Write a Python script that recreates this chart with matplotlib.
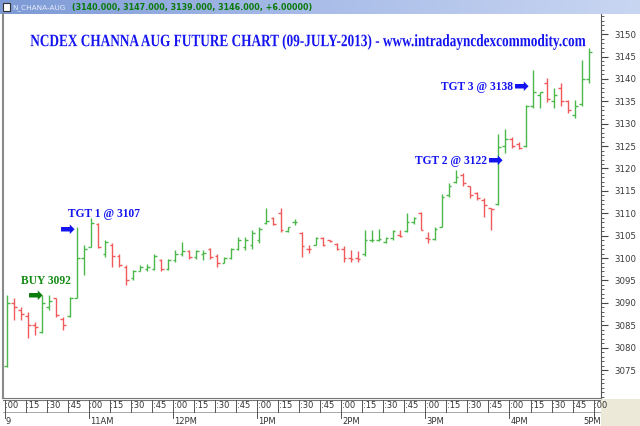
import numpy as np
import matplotlib
matplotlib.use('Agg')
import matplotlib.pyplot as plt
from matplotlib.textpath import TextPath
from matplotlib.patches import PathPatch
from matplotlib.font_manager import FontProperties
from matplotlib.transforms import Affine2D

# OHLC 5-minute bars, 10:00 to 17:00
opens = [3076, 3090, 3088.5, 3087, 3085, 3083.5, 3089, 3091, 3086.5, 3087,
         3091, 3100, 3102.5, 3107.5, 3101, 3103, 3100.5, 3098, 3095.5, 3097,
         3097.5, 3097.5, 3099.5, 3097.5, 3099.5, 3101, 3101.5, 3100.3, 3101, 3102,
         3100.5, 3099, 3100, 3102, 3102.5, 3103, 3104, 3107.8, 3109, 3110,
         3106, 3108, 3105.5, 3102.1, 3103, 3104.5, 3104, 3103.2, 3102, 3100,
         3100, 3101, 3104, 3104, 3103.5, 3104.5, 3105.1, 3106, 3108, 3110,
         3104.5, 3104.3, 3107, 3114, 3117, 3118.5, 3116, 3114.5, 3113, 3111.1,
         3112, 3125, 3126.5, 3125.5, 3125, 3134, 3136.5, 3139, 3135, 3138,
         3135, 3132, 3134.5, 3140]
highs = [3091.7, 3091, 3089, 3088, 3085.8, 3091.7, 3091.7, 3091, 3086.9, 3091.4,
         3107, 3102.9, 3108.9, 3107.8, 3104, 3103.3, 3101, 3098.4, 3097.3, 3098.4,
         3098.7, 3101, 3099.9, 3099.9, 3101.8, 3103.6, 3101.8, 3101.8, 3101.8, 3102.2,
         3101, 3100.3, 3102.2, 3104.8, 3104.6, 3106.3, 3107, 3111.1, 3109.2, 3111.1,
         3107, 3108.8, 3105.9, 3103, 3104.8, 3104.8, 3104.1, 3103.3, 3102.6, 3101.8,
         3101.5, 3106.3, 3106.3, 3106.5, 3104.8, 3106.3, 3106.3, 3110, 3109.2, 3110.3,
         3105.9, 3107, 3114.4, 3116.7, 3119.6, 3118.9, 3116, 3114.8, 3113.3, 3111.1,
         3127.8, 3128.9, 3127.1, 3126, 3134.2, 3142, 3137.1, 3140.1, 3137.9, 3139,
         3135.3, 3135.3, 3144.2, 3147]
lows = [3075.7, 3086.2, 3086.2, 3082.1, 3082.8, 3083.3, 3088.4, 3086.9, 3083.9, 3086.9,
        3091, 3096.2, 3102.5, 3102.3, 3100.3, 3098, 3098, 3094, 3095.1, 3097,
        3097, 3097.3, 3097, 3097.3, 3099.2, 3100.5, 3099.9, 3099.9, 3099.5, 3099.9,
        3098.1, 3098.8, 3099.9, 3101.8, 3101.8, 3102, 3103.3, 3107.7, 3107.3, 3105.9,
        3105.9, 3107.3, 3100.3, 3101.1, 3103, 3102.8, 3103.5, 3101.8, 3099.2, 3099.2,
        3099.2, 3100.5, 3103.6, 3103.8, 3103.3, 3104.1, 3104.8, 3105.9, 3107.7, 3106.3,
        3103.3, 3104, 3107, 3113.7, 3116.7, 3116, 3113.3, 3113, 3109.2, 3106.3,
        3111.8, 3123.4, 3124.5, 3124.3, 3124.9, 3133.4, 3133.4, 3134.9, 3133.4, 3134,
        3132.3, 3131.2, 3134, 3139]
closes = [3090, 3089, 3087.5, 3085, 3084.5, 3090, 3090.5, 3087.2, 3085, 3091,
          3100, 3102, 3107.8, 3102.5, 3103.5, 3100.5, 3098.5, 3095.1, 3097, 3098,
          3098, 3100.5, 3097.5, 3099.5, 3101, 3101.5, 3100.3, 3101.5, 3101.1, 3100.2,
          3099, 3100, 3102, 3104, 3104, 3105.5, 3106.5, 3108.2, 3107.5, 3106.3,
          3107, 3108.1, 3102.7, 3102, 3104.5, 3103, 3103.8, 3102, 3100, 3099.8,
          3099.8, 3104, 3104.1, 3104.2, 3104.5, 3106, 3105, 3108, 3109, 3106.3,
          3104.3, 3106.5, 3113.7, 3116, 3118.1, 3116.7, 3114, 3113.5, 3111.9, 3111,
          3124.9, 3126.5, 3125, 3124.5, 3134, 3137.1, 3137, 3135.6, 3136.5, 3135,
          3133, 3134, 3140, 3146]

minute_labels = [':00', ':15', ':30', ':45'] * 7 + [':00']
hour_labels = ['9', '11AM', '12PM', '1PM', '2PM', '3PM', '4PM', '5PM']
y_ticks = list(range(3075, 3151, 5))

title = 'NCDEX CHANNA AUG FUTURE CHART (09-JULY-2013) - www.intradayncdexcommodity.com'
header = '(3140.000, 3147.000, 3139.000, 3146.000, +6.00000)'

GREEN = '#4cb84c'
RED = '#f05a5a'
BLUE = '#1414f0'

W, H = 640, 426
fig = plt.figure(figsize=(6.4, 4.26), dpi=100)
fig.patch.set_facecolor('white')


def fx(px):
    return px / W


def fy(py):
    return 1 - py / H


def condensed_text(s, cx, cy, size, width_px, color):
    # serif bold text squeezed to a given pixel width, centred at (cx, cy) pixels
    tp = TextPath((0, 0), s, size=size,
                  prop=FontProperties(family='Liberation Serif', weight='bold'))
    bb = tp.get_extents()
    sx = width_px / (bb.width / 72 * 100)
    tr = (Affine2D().translate(-bb.x0 - bb.width / 2, -bb.y0 - bb.height / 2)
          .scale(sx / 72, 1 / 72).translate(cx / 100, (H - cy) / 100)
          + fig.dpi_scale_trans)
    fig.patches.append(PathPatch(tp, transform=tr, facecolor=color, edgecolor='none', lw=0))


# header bar
hb = fig.add_axes([0, fy(14), 1, 14 / H])
grad = np.linspace(0, 1, 256).reshape(1, -1)
hb.imshow(grad, aspect='auto', cmap=matplotlib.colors.LinearSegmentedColormap.from_list(
    'hb', ['#7d9ad6', '#a9bde8', '#c9d6f2']), extent=(0, 1, 0, 1))
hb.set_xlim(0, 1)
hb.set_ylim(0, 1)
hb.axis('off')
hb.add_patch(plt.Rectangle((0.004, 0.2), 0.012, 0.6, facecolor='white', edgecolor='#333333', lw=0.8))
hb.text(0.019, 0.45, 'N_CHANA-AUG', color='#e8eefc', fontsize=5.2, va='center')
hb.text(0.113, 0.45, header, color='#0a7a0a', fontsize=5.8, va='center', fontweight='bold')

# main chart
ax = fig.add_axes([fx(3), fy(398), fx(601) - fx(3), (398 - 14) / H])
x = np.arange(len(opens))
o = np.array(opens)
c = np.array(closes)
cols = [GREEN if cc >= oo else RED for oo, cc in zip(o, c)]
ax.vlines(x, lows, highs, colors=cols, lw=1.0)
ax.hlines(o, x - 0.38, x, colors=cols, lw=1.0)
ax.hlines(c, x, x + 0.38, colors=cols, lw=1.0)

ax.set_xlim(-0.57, 84.7)
ax.set_ylim(3068.75, 3154.5)
ax.yaxis.tick_right()
ax.set_yticks(y_ticks)
ax.set_yticks(np.arange(3069, 3155, 1), minor=True)
ax.tick_params(axis='y', which='major', length=5, width=0.8, color='#444444',
               labelsize=6.2, labelcolor='#3a3a3a', pad=5)
ax.tick_params(axis='y', which='minor', length=2, width=0.6, color='#444444')
ax.set_xticks([])
ax.spines['top'].set_visible(False)
ax.spines['left'].set_color('#8a8a8a')
ax.spines['left'].set_linewidth(1.5)
ax.spines['right'].set_color('#555555')
ax.spines['right'].set_linewidth(0.8)
ax.spines['bottom'].set_color('#777777')
ax.spines['bottom'].set_linewidth(0.8)

# annotations
ann_font = dict(family='Liberation Serif', fontweight='bold', fontsize=8.3)
arrow_font = dict(ha='center', va='center', fontsize=13, family='DejaVu Sans', fontweight='bold')
ax.text(5.5, 3094.9, 'BUY 3092', color='#138a13', ha='center', va='center', **ann_font)
ax.text(4.1, 3091.5, '➡', color='#0b7d0b', **arrow_font)
ax.text(8.7, 3109.8, 'TGT 1 @ 3107', color=BLUE, ha='left', va='center', **ann_font)
ax.text(8.7, 3106.3, '➡', color=BLUE, **arrow_font)
ax.text(68.5, 3121.7, 'TGT 2 @ 3122', color=BLUE, ha='right', va='center', **ann_font)
ax.text(69.7, 3121.7, '➡', color=BLUE, **arrow_font)
ax.text(72.2, 3138.2, 'TGT 3 @ 3138', color=BLUE, ha='right', va='center', **ann_font)
ax.text(73.4, 3138.2, '➡', color=BLUE, **arrow_font)

condensed_text(title, 308, 42, 12.5, 555, BLUE)

# time axis band
xa = fig.add_axes([fx(3), fy(426), fx(601) - fx(3), (426 - 398) / H])
xa.set_xlim(ax.get_xlim())
xa.set_ylim(0, 28)
xa.axis('off')
xa.axhline(26.5, color='#777777', lw=0.8)
xa.axhline(14, color='#999999', lw=0.6)
for k, lab in enumerate(minute_labels):
    t = k * 3 - 0.35
    xa.plot([t, t], [14, 26.5], color='#555555', lw=0.7)
    xa.text(t + 0.1, 20, lab, fontsize=6, color='#333333', ha='left', va='center', clip_on=False)
for k, lab in enumerate(hour_labels):
    t = k * 12 - 0.35
    xa.plot([t, t], [8, 14], color='#555555', lw=0.7)
    if k == len(hour_labels) - 1:
        xa.text(84.65, 4.5, lab, fontsize=6, color='#333333', ha='right', va='center', clip_on=False)
    else:
        xa.text(t + 0.2, 4.5, lab, fontsize=6, color='#333333', ha='left', va='center', clip_on=False)

# corner patch
corner = plt.Rectangle((fx(601), 0), 1 - fx(601), (426 - 399) / H,
                       transform=fig.transFigure, facecolor='#ece9d8',
                       edgecolor='none', zorder=-1)
fig.patches.append(corner)

fig.savefig('out.png', dpi=100)
